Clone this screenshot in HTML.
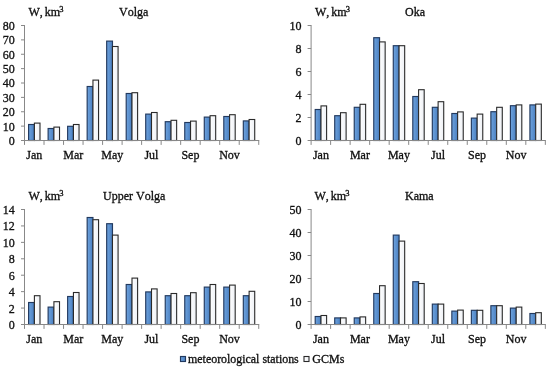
<!DOCTYPE html>
<html><head><meta charset="utf-8"><title>Monthly runoff</title>
<style>
html,body{margin:0;padding:0;background:#fff;}
body{width:550px;height:367px;overflow:hidden;}
svg{display:block;}
text{font-family:"Liberation Serif","Times New Roman",serif;fill:#111;stroke:#111;stroke-width:0.32px;font-kerning:none;}
.ax{font-size:12px;}
.t{font-size:12px;}
.l{stroke:#888;stroke-width:1;fill:none;}
.b{fill:url(#gb);stroke:#22395e;stroke-width:1.15;}
.w{fill:url(#gw);stroke:#2a2a2a;stroke-width:1.1;}
</style></head><body>
<svg width="550" height="367" viewBox="0 0 550 367">
<defs>
<linearGradient id="gb" x1="0" y1="0" x2="1" y2="0"><stop offset="0" stop-color="#6ea3de"/><stop offset="1" stop-color="#4a7fc0"/></linearGradient>
<linearGradient id="gw" x1="0" y1="0" x2="1" y2="0"><stop offset="0" stop-color="#ffffff"/><stop offset="1" stop-color="#edf0f5"/></linearGradient>
</defs>
<rect width="550" height="367" fill="#fff"/>

<g>
<text class="t" x="28.5" y="16.0" word-spacing="-1">W, km</text><text x="59.3" y="12.4" style="font-size:8.5px">3</text>
<text class="t" x="119.0" y="16.0">Volga</text>
<rect class="b" x="28.60" y="124.50" width="5.80" height="16.00"/>
<rect class="w" x="34.40" y="123.10" width="5.60" height="17.40"/>
<rect class="b" x="48.12" y="128.50" width="5.80" height="12.00"/>
<rect class="w" x="53.92" y="127.10" width="5.60" height="13.40"/>
<rect class="b" x="67.64" y="126.30" width="5.80" height="14.20"/>
<rect class="w" x="73.44" y="124.50" width="5.60" height="16.00"/>
<rect class="b" x="87.16" y="86.50" width="5.80" height="54.00"/>
<rect class="w" x="92.96" y="80.10" width="5.60" height="60.40"/>
<rect class="b" x="106.68" y="41.10" width="5.80" height="99.40"/>
<rect class="w" x="112.48" y="46.50" width="5.60" height="94.00"/>
<rect class="b" x="126.20" y="93.50" width="5.80" height="47.00"/>
<rect class="w" x="132.00" y="92.70" width="5.60" height="47.80"/>
<rect class="b" x="145.72" y="114.10" width="5.80" height="26.40"/>
<rect class="w" x="151.52" y="112.50" width="5.60" height="28.00"/>
<rect class="b" x="165.24" y="121.70" width="5.80" height="18.80"/>
<rect class="w" x="171.04" y="120.30" width="5.60" height="20.20"/>
<rect class="b" x="184.76" y="122.50" width="5.80" height="18.00"/>
<rect class="w" x="190.56" y="121.10" width="5.60" height="19.40"/>
<rect class="b" x="204.28" y="117.10" width="5.80" height="23.40"/>
<rect class="w" x="210.08" y="115.70" width="5.60" height="24.80"/>
<rect class="b" x="223.80" y="116.50" width="5.80" height="24.00"/>
<rect class="w" x="229.60" y="114.70" width="5.60" height="25.80"/>
<rect class="b" x="243.32" y="120.90" width="5.80" height="19.60"/>
<rect class="w" x="249.12" y="119.50" width="5.60" height="21.00"/>
<path class="l" d="M24.50 25.00V144.90M21.00 140.50H259.24M21.00 126.12H24.50M21.00 111.75H24.50M21.00 97.38H24.50M21.00 83.00H24.50M21.00 68.62H24.50M21.00 54.25H24.50M21.00 39.88H24.50M21.00 25.50H24.50M44.02 140.50V144.90M63.54 140.50V144.90M83.06 140.50V144.90M102.58 140.50V144.90M122.10 140.50V144.90M141.62 140.50V144.90M161.14 140.50V144.90M180.66 140.50V144.90M200.18 140.50V144.90M219.70 140.50V144.90M239.22 140.50V144.90M258.74 140.50V144.90"/>
<text class="ax" text-anchor="end" x="14.8" y="144.9">0</text>
<text class="ax" text-anchor="end" x="14.8" y="130.5">10</text>
<text class="ax" text-anchor="end" x="14.8" y="116.2">20</text>
<text class="ax" text-anchor="end" x="14.8" y="101.8">30</text>
<text class="ax" text-anchor="end" x="14.8" y="87.4">40</text>
<text class="ax" text-anchor="end" x="14.8" y="73.0">50</text>
<text class="ax" text-anchor="end" x="14.8" y="58.6">60</text>
<text class="ax" text-anchor="end" x="14.8" y="44.3">70</text>
<text class="ax" text-anchor="end" x="14.8" y="29.9">80</text>
<text class="ax" text-anchor="middle" x="34.3" y="159.1">Jan</text>
<text class="ax" text-anchor="middle" x="73.3" y="159.1">Mar</text>
<text class="ax" text-anchor="middle" x="112.3" y="159.1">May</text>
<text class="ax" text-anchor="middle" x="151.4" y="159.1">Jul</text>
<text class="ax" text-anchor="middle" x="190.4" y="159.1">Sep</text>
<text class="ax" text-anchor="middle" x="229.5" y="159.1">Nov</text>
</g>
<g>
<text class="t" x="314.9" y="16.0" word-spacing="-1">W, km</text><text x="345.7" y="12.4" style="font-size:8.5px">3</text>
<text class="t" x="405.0" y="16.0">Oka</text>
<rect class="b" x="315.20" y="109.50" width="5.80" height="31.00"/>
<rect class="w" x="321.00" y="105.90" width="5.60" height="34.60"/>
<rect class="b" x="334.72" y="115.70" width="5.80" height="24.80"/>
<rect class="w" x="340.52" y="112.70" width="5.60" height="27.80"/>
<rect class="b" x="354.24" y="107.30" width="5.80" height="33.20"/>
<rect class="w" x="360.04" y="104.30" width="5.60" height="36.20"/>
<rect class="b" x="373.76" y="37.70" width="5.80" height="102.80"/>
<rect class="w" x="379.56" y="41.90" width="5.60" height="98.60"/>
<rect class="b" x="393.28" y="45.70" width="5.80" height="94.80"/>
<rect class="w" x="399.08" y="45.70" width="5.60" height="94.80"/>
<rect class="b" x="412.80" y="96.50" width="5.80" height="44.00"/>
<rect class="w" x="418.60" y="89.70" width="5.60" height="50.80"/>
<rect class="b" x="432.32" y="107.30" width="5.80" height="33.20"/>
<rect class="w" x="438.12" y="101.70" width="5.60" height="38.80"/>
<rect class="b" x="451.84" y="113.50" width="5.80" height="27.00"/>
<rect class="w" x="457.64" y="111.90" width="5.60" height="28.60"/>
<rect class="b" x="471.36" y="118.10" width="5.80" height="22.40"/>
<rect class="w" x="477.16" y="114.10" width="5.60" height="26.40"/>
<rect class="b" x="490.88" y="111.70" width="5.80" height="28.80"/>
<rect class="w" x="496.68" y="107.30" width="5.60" height="33.20"/>
<rect class="b" x="510.40" y="105.70" width="5.80" height="34.80"/>
<rect class="w" x="516.20" y="104.90" width="5.60" height="35.60"/>
<rect class="b" x="529.92" y="104.90" width="5.80" height="35.60"/>
<rect class="w" x="535.72" y="104.10" width="5.60" height="36.40"/>
<path class="l" d="M311.10 25.00V144.90M307.60 140.50H545.84M307.60 117.50H311.10M307.60 94.50H311.10M307.60 71.50H311.10M307.60 48.50H311.10M307.60 25.50H311.10M330.62 140.50V144.90M350.14 140.50V144.90M369.66 140.50V144.90M389.18 140.50V144.90M408.70 140.50V144.90M428.22 140.50V144.90M447.74 140.50V144.90M467.26 140.50V144.90M486.78 140.50V144.90M506.30 140.50V144.90M525.82 140.50V144.90M545.34 140.50V144.90"/>
<text class="ax" text-anchor="end" x="301.4" y="144.9">0</text>
<text class="ax" text-anchor="end" x="301.4" y="121.9">2</text>
<text class="ax" text-anchor="end" x="301.4" y="98.9">4</text>
<text class="ax" text-anchor="end" x="301.4" y="75.9">6</text>
<text class="ax" text-anchor="end" x="301.4" y="52.9">8</text>
<text class="ax" text-anchor="end" x="301.4" y="29.9">10</text>
<text class="ax" text-anchor="middle" x="320.9" y="159.1">Jan</text>
<text class="ax" text-anchor="middle" x="359.9" y="159.1">Mar</text>
<text class="ax" text-anchor="middle" x="398.9" y="159.1">May</text>
<text class="ax" text-anchor="middle" x="438.0" y="159.1">Jul</text>
<text class="ax" text-anchor="middle" x="477.0" y="159.1">Sep</text>
<text class="ax" text-anchor="middle" x="516.1" y="159.1">Nov</text>
</g>
<g>
<text class="t" x="28.5" y="199.7" word-spacing="-1">W, km</text><text x="59.3" y="196.1" style="font-size:8.5px">3</text>
<text class="t" x="103.0" y="199.7">Upper Volga</text>
<rect class="b" x="28.60" y="302.50" width="5.80" height="22.00"/>
<rect class="w" x="34.40" y="295.70" width="5.60" height="28.80"/>
<rect class="b" x="48.12" y="307.10" width="5.80" height="17.40"/>
<rect class="w" x="53.92" y="301.70" width="5.60" height="22.80"/>
<rect class="b" x="67.64" y="296.50" width="5.80" height="28.00"/>
<rect class="w" x="73.44" y="292.50" width="5.60" height="32.00"/>
<rect class="b" x="87.16" y="217.50" width="5.80" height="107.00"/>
<rect class="w" x="92.96" y="219.70" width="5.60" height="104.80"/>
<rect class="b" x="106.68" y="223.70" width="5.80" height="100.80"/>
<rect class="w" x="112.48" y="235.10" width="5.60" height="89.40"/>
<rect class="b" x="126.20" y="284.50" width="5.80" height="40.00"/>
<rect class="w" x="132.00" y="278.10" width="5.60" height="46.40"/>
<rect class="b" x="145.72" y="291.90" width="5.80" height="32.60"/>
<rect class="w" x="151.52" y="288.90" width="5.60" height="35.60"/>
<rect class="b" x="165.24" y="295.70" width="5.80" height="28.80"/>
<rect class="w" x="171.04" y="293.50" width="5.60" height="31.00"/>
<rect class="b" x="184.76" y="295.70" width="5.80" height="28.80"/>
<rect class="w" x="190.56" y="292.70" width="5.60" height="31.80"/>
<rect class="b" x="204.28" y="287.10" width="5.80" height="37.40"/>
<rect class="w" x="210.08" y="284.50" width="5.60" height="40.00"/>
<rect class="b" x="223.80" y="287.10" width="5.80" height="37.40"/>
<rect class="w" x="229.60" y="285.10" width="5.60" height="39.40"/>
<rect class="b" x="243.32" y="295.70" width="5.80" height="28.80"/>
<rect class="w" x="249.12" y="291.30" width="5.60" height="33.20"/>
<path class="l" d="M24.50 209.00V328.90M21.00 324.50H259.24M21.00 308.07H24.50M21.00 291.64H24.50M21.00 275.21H24.50M21.00 258.79H24.50M21.00 242.36H24.50M21.00 225.93H24.50M21.00 209.50H24.50M44.02 324.50V328.90M63.54 324.50V328.90M83.06 324.50V328.90M102.58 324.50V328.90M122.10 324.50V328.90M141.62 324.50V328.90M161.14 324.50V328.90M180.66 324.50V328.90M200.18 324.50V328.90M219.70 324.50V328.90M239.22 324.50V328.90M258.74 324.50V328.90"/>
<text class="ax" text-anchor="end" x="14.8" y="328.9">0</text>
<text class="ax" text-anchor="end" x="14.8" y="312.5">2</text>
<text class="ax" text-anchor="end" x="14.8" y="296.0">4</text>
<text class="ax" text-anchor="end" x="14.8" y="279.6">6</text>
<text class="ax" text-anchor="end" x="14.8" y="263.2">8</text>
<text class="ax" text-anchor="end" x="14.8" y="246.8">10</text>
<text class="ax" text-anchor="end" x="14.8" y="230.3">12</text>
<text class="ax" text-anchor="end" x="14.8" y="213.9">14</text>
<text class="ax" text-anchor="middle" x="34.3" y="343.1">Jan</text>
<text class="ax" text-anchor="middle" x="73.3" y="343.1">Mar</text>
<text class="ax" text-anchor="middle" x="112.3" y="343.1">May</text>
<text class="ax" text-anchor="middle" x="151.4" y="343.1">Jul</text>
<text class="ax" text-anchor="middle" x="190.4" y="343.1">Sep</text>
<text class="ax" text-anchor="middle" x="229.5" y="343.1">Nov</text>
</g>
<g>
<text class="t" x="314.5" y="199.7" word-spacing="-1">W, km</text><text x="345.3" y="196.1" style="font-size:8.5px">3</text>
<text class="t" x="405.0" y="199.7">Kama</text>
<rect class="b" x="315.20" y="316.50" width="5.80" height="8.00"/>
<rect class="w" x="321.00" y="315.50" width="5.60" height="9.00"/>
<rect class="b" x="334.72" y="317.90" width="5.80" height="6.60"/>
<rect class="w" x="340.52" y="317.90" width="5.60" height="6.60"/>
<rect class="b" x="354.24" y="317.90" width="5.80" height="6.60"/>
<rect class="w" x="360.04" y="316.90" width="5.60" height="7.60"/>
<rect class="b" x="373.76" y="293.50" width="5.80" height="31.00"/>
<rect class="w" x="379.56" y="285.70" width="5.60" height="38.80"/>
<rect class="b" x="393.28" y="235.10" width="5.80" height="89.40"/>
<rect class="w" x="399.08" y="241.10" width="5.60" height="83.40"/>
<rect class="b" x="412.80" y="281.70" width="5.80" height="42.80"/>
<rect class="w" x="418.60" y="283.50" width="5.60" height="41.00"/>
<rect class="b" x="432.32" y="304.10" width="5.80" height="20.40"/>
<rect class="w" x="438.12" y="304.10" width="5.60" height="20.40"/>
<rect class="b" x="451.84" y="311.10" width="5.80" height="13.40"/>
<rect class="w" x="457.64" y="310.10" width="5.60" height="14.40"/>
<rect class="b" x="471.36" y="310.30" width="5.80" height="14.20"/>
<rect class="w" x="477.16" y="310.30" width="5.60" height="14.20"/>
<rect class="b" x="490.88" y="305.70" width="5.80" height="18.80"/>
<rect class="w" x="496.68" y="305.70" width="5.60" height="18.80"/>
<rect class="b" x="510.40" y="308.10" width="5.80" height="16.40"/>
<rect class="w" x="516.20" y="307.10" width="5.60" height="17.40"/>
<rect class="b" x="529.92" y="313.50" width="5.80" height="11.00"/>
<rect class="w" x="535.72" y="312.70" width="5.60" height="11.80"/>
<path class="l" d="M311.10 209.00V328.90M307.60 324.50H545.84M307.60 301.50H311.10M307.60 278.50H311.10M307.60 255.50H311.10M307.60 232.50H311.10M307.60 209.50H311.10M330.62 324.50V328.90M350.14 324.50V328.90M369.66 324.50V328.90M389.18 324.50V328.90M408.70 324.50V328.90M428.22 324.50V328.90M447.74 324.50V328.90M467.26 324.50V328.90M486.78 324.50V328.90M506.30 324.50V328.90M525.82 324.50V328.90M545.34 324.50V328.90"/>
<text class="ax" text-anchor="end" x="301.4" y="328.9">0</text>
<text class="ax" text-anchor="end" x="301.4" y="305.9">10</text>
<text class="ax" text-anchor="end" x="301.4" y="282.9">20</text>
<text class="ax" text-anchor="end" x="301.4" y="259.9">30</text>
<text class="ax" text-anchor="end" x="301.4" y="236.9">40</text>
<text class="ax" text-anchor="end" x="301.4" y="213.9">50</text>
<text class="ax" text-anchor="middle" x="320.9" y="343.1">Jan</text>
<text class="ax" text-anchor="middle" x="359.9" y="343.1">Mar</text>
<text class="ax" text-anchor="middle" x="398.9" y="343.1">May</text>
<text class="ax" text-anchor="middle" x="438.0" y="343.1">Jul</text>
<text class="ax" text-anchor="middle" x="477.0" y="343.1">Sep</text>
<text class="ax" text-anchor="middle" x="516.1" y="343.1">Nov</text>
</g>
<rect class="b" x="180.5" y="356.5" width="5" height="5"/>
<text class="t" x="188.1" y="363.4" style="font-size:11.9px">meteorological stations</text>
<rect class="w" x="304" y="356.5" width="5" height="5"/>
<text class="t" x="312.3" y="363.4">GCMs</text>
</svg></body></html>
